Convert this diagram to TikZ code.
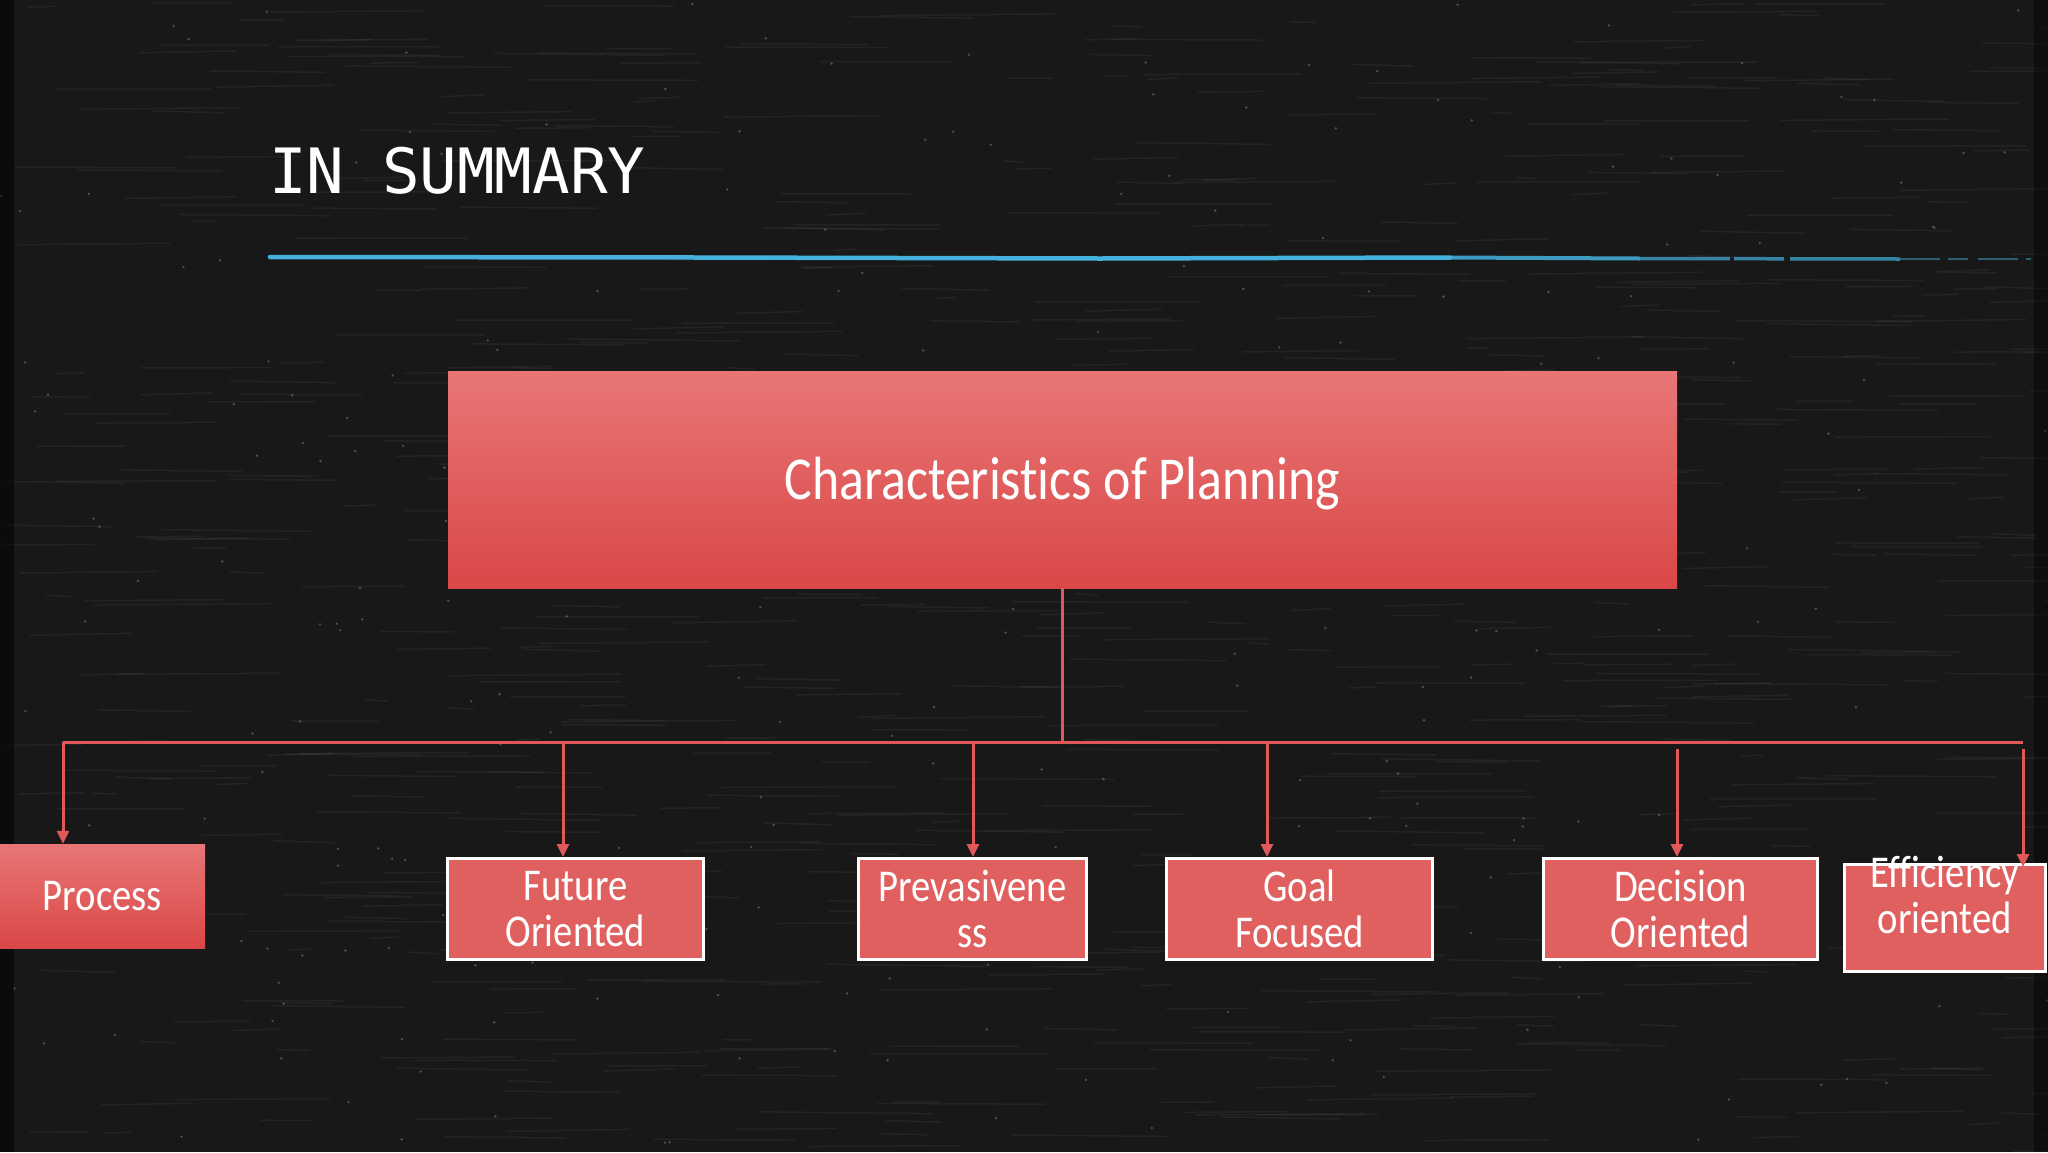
\documentclass[tikz,border=0pt]{standalone}
\usepackage{fontspec}
\setmainfont{Carlito}[Ligatures={NoCommon}]
\newfontfamily\boxfont{Carlito}[FakeStretch=0.85, Ligatures={NoCommon}]
\newfontfamily\titlefont{DejaVu Sans Mono}
\usetikzlibrary{arrows.meta}
\definecolor{board}{HTML}{181818}
\definecolor{chalkblue}{HTML}{45B1DF}
\definecolor{redtop}{HTML}{E87676}
\definecolor{redbot}{HTML}{DA4747}
\definecolor{redflat}{HTML}{E06060}
\definecolor{conn}{HTML}{E05858}
\begin{document}
\begin{tikzpicture}[x=1pt,y=-1pt,
  gradbox/.style={rectangle, top color=redtop, bottom color=redbot, draw=none, inner sep=0pt, text=white, align=center},
  flatbox/.style={rectangle, fill=redflat, draw=white, line width=3pt, inner sep=0pt, text=white, align=center,
     font=\boxfont\fontsize{45.5}{46}\selectfont},
  boxtext/.style={inner sep=0pt, text=white, align=center, font=\boxfont\fontsize{45.5}{46}\selectfont},
  link/.style={draw=conn, line width=3pt},
  arr/.style={draw=conn, line width=3pt, -{Triangle[width=12pt,length=13pt]}}]
\useasboundingbox (0,0) rectangle (2048,1152);
\fill[board] (0,0) rectangle (2048,1152);
\begin{scope}
\clip (0,0) rectangle (2048,1152);
\pgfmathsetseed{42}
\foreach \i in {1,...,700}{
  \pgfmathsetmacro\xx{rnd*2048}
  \pgfmathsetmacro\yy{rnd*1152}
  \pgfmathsetmacro\ll{20+rnd*160}
  \draw[white, opacity=0.05, line width=1.5pt] (\xx,\yy) -- ++(\ll,rnd*4-2);
}
\foreach \i in {1,...,250}{
  \pgfmathsetmacro\xx{rnd*2048}
  \pgfmathsetmacro\yy{rnd*1152}
  \fill[white, opacity=0.25] (\xx,\yy) circle (1.3pt);
}
\fill[black, opacity=0.5] (0,0) rectangle (14,1152);
\fill[black, opacity=0.4] (2034,0) rectangle (2048,1152);
\end{scope}
% title and rule
\node[anchor=base west, inner sep=0pt, text=white, font=\titlefont\fontsize{62.5}{62.5}\selectfont] (title) at (269,193) {IN SUMMARY};
\draw[chalkblue, line width=4.5pt, line cap=round] (270,257) -- (700,257.5) -- (1100,258.5) -- (1450,257.5);
\draw[chalkblue, line width=4pt, opacity=0.85] (1450,257.5) -- (1640,258.5);
\draw[chalkblue, line width=3.5pt, opacity=0.7, dash pattern=on 90pt off 4pt on 50pt off 6pt on 120pt off 5pt] (1640,258.5) -- (1900,259);
\draw[chalkblue, line width=2.5pt, opacity=0.45, dash pattern=on 40pt off 8pt on 20pt off 10pt] (1900,259) -- (2031,259);
% main box
\node[gradbox, minimum width=1229pt, minimum height=217pt, font=\boxfont\fontsize{61}{61}\selectfont] (main) at (1062.5,479.5) {\rule{0pt}{50pt}Characteristics of Planning};
% child boxes
\node[gradbox, minimum width=205pt, minimum height=104pt, font=\boxfont\fontsize{45.5}{46}\selectfont] (proc) at (102.5,896) {Process};
\node[flatbox, minimum width=256pt, minimum height=101pt] (fut) at (575.5,909) {Future\\Oriented};
\node[flatbox, minimum width=228pt, minimum height=101pt] (prev) at (972.5,909) {Prevasivene\\ss};
\node[flatbox, minimum width=266pt, minimum height=101pt] (goal) at (1299.5,909) {Goal\\Focused};
\node[flatbox, minimum width=274pt, minimum height=101pt] (dec) at (1680.5,909) {Decision\\Oriented};
\node[flatbox, minimum width=201pt, minimum height=107pt] (eff) at (1945,918) {};
\node[boxtext] (efft) at (1945,895) {Efficiency\\oriented};
% connectors
\coordinate (hub) at (1062.5,742);
\coordinate (busL) at (63,742);
\coordinate (busR) at (2023,742);
\coordinate (f0) at (563,742);
\coordinate (p0) at (973,742);
\coordinate (g0) at (1267,742);
\coordinate (d0) at (1677,749);
\coordinate (e0) at (2023,749);
\draw[link] (main.south) -- (hub);
\draw[link] (busL) -- (busR);
\draw[arr] (busL) -- (busL |- proc.north);
\draw[arr] (f0) -- (f0 |- fut.north);
\draw[arr] (p0) -- (p0 |- prev.north);
\draw[arr] (g0) -- (g0 |- goal.north);
\draw[arr] (d0) -- (d0 |- dec.north);
\draw[arr] (e0) -- ([yshift=-4pt]e0 |- eff.north);
\end{tikzpicture}
\end{document}
